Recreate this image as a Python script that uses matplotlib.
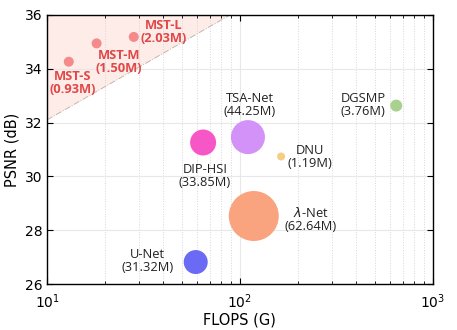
import matplotlib
matplotlib.use("Agg")
import matplotlib.pyplot as plt
import numpy as np

names = ["MST-S", "MST-M", "MST-L", "DGSMP", "TSA-Net", "DIP-HSI", "DNU", "$\\lambda$-Net", "U-Net"]
params = ["(0.93M)", "(1.50M)", "(2.03M)", "(3.76M)", "(44.25M)", "(33.85M)", "(1.19M)", "(62.64M)", "(31.32M)"]
flops = [12.96, 18.07, 28.15, 646.65, 110.06, 64.42, 163.48, 117.98, 58.99]
psnr = [34.26, 34.94, 35.18, 32.63, 31.46, 31.26, 30.74, 28.53, 26.82]
radius_px = [5, 5, 5, 6, 17, 13, 4, 25, 12]
colors = ["#f58a8a", "#f58a8a", "#f58a8a", "#a9d18e", "#d392f7", "#f757c6", "#f6cd82", "#f9a47e", "#6a6af4"]
label_off = [(4, -21), (22, -19), (30, 5), (-33, 1), (2, 32), (2, -34), (29, -1), (57, -3), (-48, 1)]
label_color = ["#e04848"] * 3 + ["#222222"] * 6
label_weight = ["bold"] * 3 + ["normal"] * 6

plt.rcParams['font.family'] = ['Open Sans', 'DejaVu Sans']
plt.rcParams['mathtext.fontset'] = 'dejavusans'
fig = plt.figure(figsize=(4.57, 3.30), dpi=100)
ax = fig.add_axes([0.103, 0.139, 0.844, 0.816])
ax.set_xscale('log')
ax.set_xlim(10, 1000)
ax.set_ylim(26, 36)

# shaded region
tx = [10, 89, 10]
ty = [32.1, 36, 36]
ax.fill(tx, ty, color="#fdece8", zorder=0, lw=0)
ax.plot([10, 89], [32.1, 36], ls='-.', color="#c4b6ae", lw=0.7, zorder=1)

ax.grid(True, which='major', color="#e8e8e8", lw=0.8, zorder=0)
ax.grid(True, which='minor', color="#d6d6d6", lw=0.7, ls=':', zorder=0)
ax.set_axisbelow(True)

for i in range(len(names)):
    s = (radius_px[i] * 0.72 * 2) ** 2
    ax.scatter(flops[i], psnr[i], s=s, color=colors[i], edgecolors='none', zorder=3)
    ox, oy = label_off[i]
    ax.annotate(names[i] + "\n" + params[i], (flops[i], psnr[i]), xytext=(ox, oy),
                textcoords='offset pixels', ha='center', va='center', fontsize=9.3,
                color=label_color[i], fontweight=label_weight[i], linespacing=1.0, zorder=4)

ax.tick_params(which='both', direction='in', top=True, right=True, labelsize=10)
ax.tick_params(which='major', length=4)
ax.tick_params(which='minor', length=2)
ax.tick_params(axis='x', which='major', pad=6)
ax.set_yticks([26, 28, 30, 32, 34, 36])
for sp in ax.spines.values():
    sp.set_linewidth(1.0)
ax.set_xlabel("FLOPS (G)", fontsize=10.5, family='DejaVu Sans', labelpad=1)
ax.set_ylabel("PSNR (dB)", fontsize=10.5, family='DejaVu Sans')
for lab in ax.get_xticklabels() + ax.get_yticklabels():
    lab.set_family('DejaVu Sans')

fig.savefig("out.png", dpi=100)
